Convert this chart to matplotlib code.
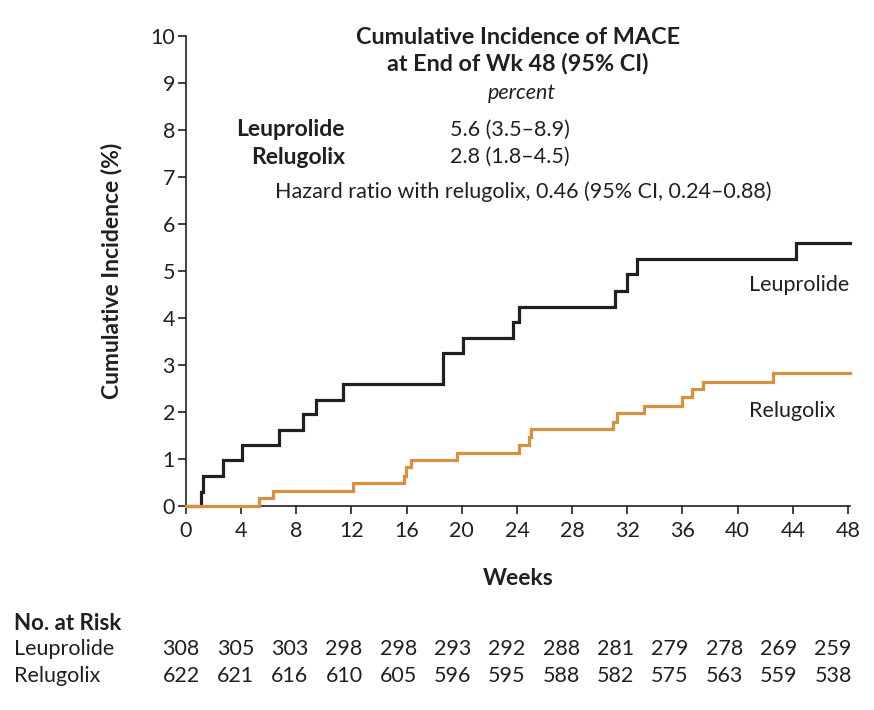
import numpy as np
import matplotlib
matplotlib.use('Agg')
import matplotlib.pyplot as plt

plt.rcParams['font.family'] = ['Lato', 'DejaVu Sans']

# шаги кривых (недели, % кумулятивной частоты)
leu_weeks = [0, 1.07, 1.2, 2.66, 4.06, 6.77, 8.46, 9.43, 11.41, 18.66, 20.06, 23.73, 24.15,
             31.1, 31.96, 32.73, 44.23, 48.15]
leu_inc = [0, 0.30, 0.64, 0.98, 1.29, 1.62, 1.95, 2.26, 2.59, 3.26, 3.58, 3.91, 4.24,
           4.58, 4.93, 5.25, 5.60, 5.60]
rel_weeks = [0, 5.29, 6.28, 12.14, 15.81, 15.95, 16.29, 19.63, 24.17, 24.9, 25.0,
             30.94, 31.28, 33.21, 35.94, 36.67, 37.51, 42.59, 48.15]
rel_inc = [0, 0.16, 0.32, 0.48, 0.64, 0.82, 0.98, 1.13, 1.30, 1.46, 1.64,
           1.79, 1.97, 2.13, 2.31, 2.48, 2.64, 2.82, 2.82]

x_ticks = list(range(0, 49, 4))
y_ticks = list(range(0, 11))
leu_risk = [308, 305, 303, 298, 298, 293, 292, 288, 281, 279, 278, 269, 259]
rel_risk = [622, 621, 616, 610, 605, 596, 595, 588, 582, 575, 563, 559, 538]

black = '#231f20'
orange = '#d8923f'
fs = 15.5

fig = plt.figure(figsize=(8.74, 7.10), dpi=100)
ax = fig.add_axes([186/874, 1-506/710, 664/874, 470/710])

ax.step(leu_weeks, leu_inc, where='post', color=black, lw=2.3, solid_joinstyle='miter',
        clip_on=False, zorder=4)
ax.step(rel_weeks, rel_inc, where='post', color=orange, lw=2.3, solid_joinstyle='miter',
        clip_on=False, zorder=5)

ax.set_xlim(0, 48.15)
ax.set_ylim(0, 10)
ax.set_xticks(x_ticks)
ax.set_yticks(y_ticks)
ax.spines['top'].set_visible(False)
ax.spines['right'].set_visible(False)
for s in ['left', 'bottom']:
    ax.spines[s].set_linewidth(1.2)
    ax.spines[s].set_color(black)
ax.tick_params(axis='both', length=6, width=1.2, color=black, labelsize=fs, labelcolor=black)
ax.tick_params(axis='x', pad=5)
ax.tick_params(axis='y', pad=2)

ax.set_xlabel('Weeks', fontsize=16.5, fontweight='bold', labelpad=19, color=black)
ax.set_ylabel('Cumulative Incidence (%)', fontsize=16.5, fontweight='bold', labelpad=20, color=black)

# текст внутри графика
fig.text(518/874, 1-38/710, 'Cumulative Incidence of MACE', ha='center', va='center',
         fontsize=16.8, fontweight='bold', color=black)
fig.text(518/874, 1-63/710, 'at End of Wk 48 (95% CI)', ha='center', va='center',
         fontsize=16.8, fontweight='bold', color=black)
fig.text(522/874, 1-93/710, 'percent', ha='center', va='center', fontsize=fs, style='italic', color=black)
fig.text(345/874, 1-130/710, 'Leuprolide', ha='right', va='center', fontsize=16.5, fontweight='bold', color=black)
fig.text(345/874, 1-157/710, 'Relugolix', ha='right', va='center', fontsize=16.5, fontweight='bold', color=black)
fig.text(450/874, 1-130/710, '5.6 (3.5–8.9)', ha='left', va='center', fontsize=fs, color=black)
fig.text(450/874, 1-157/710, '2.8 (1.8–4.5)', ha='left', va='center', fontsize=fs, color=black)
fig.text(523/874, 1-192/710, 'Hazard ratio with relugolix, 0.46 (95% CI, 0.24–0.88)',
         ha='center', va='center', fontsize=fs, color=black)

ax.text(40.8, 4.7, 'Leuprolide', ha='left', va='center', fontsize=fs, color=black)
ax.text(40.8, 2.03, 'Relugolix', ha='left', va='center', fontsize=fs, color=black)

# число под риском
fig.text(14/874, 1-623/710, 'No. at Risk', ha='left', va='center', fontsize=16, fontweight='bold', color=black)
fig.text(14/874, 1-649/710, 'Leuprolide', ha='left', va='center', fontsize=fs, color=black)
fig.text(14/874, 1-676/710, 'Relugolix', ha='left', va='center', fontsize=fs, color=black)
xs = np.linspace(181, 833, len(leu_risk))
for x, a, b in zip(xs, leu_risk, rel_risk):
    fig.text(x/874, 1-649/710, str(a), ha='center', va='center', fontsize=fs, color=black)
    fig.text(x/874, 1-676/710, str(b), ha='center', va='center', fontsize=fs, color=black)

fig.savefig('out.png', dpi=100)
